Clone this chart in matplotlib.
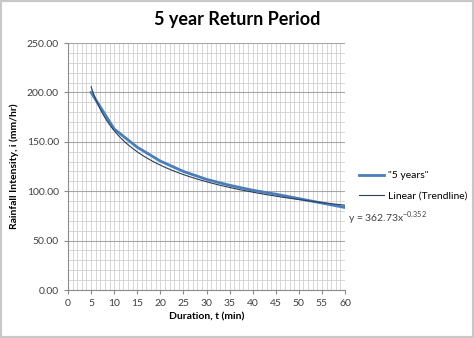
import numpy as np
import matplotlib
matplotlib.use('Agg')
import matplotlib.pyplot as plt
from matplotlib.ticker import MultipleLocator, FormatStrFormatter
from matplotlib.patches import Rectangle

# Data
durations = [5, 10, 15, 20, 25, 30, 35, 40, 45, 50, 55, 60]
intensity = [200.0, 163.0, 144.5, 130.5, 120.0, 112.0, 106.0, 101.0, 97.0, 92.5, 88.0, 83.5]

# power trendline coefficients shown on the chart
trend_a = 362.73
trend_b = -0.352

plt.rcParams['font.family'] = ['Lato', 'DejaVu Sans']

fig = plt.figure(figsize=(4.74, 3.38), dpi=100)
ax = fig.add_axes([68/474, 1 - 290/338, (345 - 68)/474, (290 - 43)/338])

# Trendline
tx = np.linspace(durations[0], durations[-1], 200)
ax.plot(tx, trend_a * tx ** trend_b, color='#2b3f5c', lw=0.8, label='Linear (Trendline)', zorder=4)
ax.plot(durations, intensity, color='#4a7ebb', lw=2.0, label='"5 years"', zorder=3)

ax.set_xlim(0, 60)
ax.set_ylim(0, 250)
ax.xaxis.set_major_locator(MultipleLocator(5))
ax.xaxis.set_minor_locator(MultipleLocator(1))
ax.yaxis.set_major_locator(MultipleLocator(50))
ax.yaxis.set_minor_locator(MultipleLocator(10))
ax.yaxis.set_major_formatter(FormatStrFormatter('%.2f'))

ax.grid(which='major', axis='y', color='#a6a6a6', lw=0.8)
ax.grid(which='minor', axis='y', color='#d0d0d0', lw=0.6)
ax.grid(which='both', axis='x', color='#d0d0d0', lw=0.6)
ax.set_axisbelow(True)

for s in ['top', 'right']:
    ax.spines[s].set_visible(False)
for s in ['left', 'bottom']:
    ax.spines[s].set_color('#8c8c8c')
    ax.spines[s].set_linewidth(0.8)

ax.tick_params(which='major', length=3, color='#8c8c8c', labelsize=7.5, labelcolor='#404040')
ax.tick_params(which='minor', length=0)

ax.set_xlabel('Duration, t (min)', fontsize=7.5, fontweight='bold', labelpad=3)
ax.set_ylabel('Rainfall Intensity, i (mm/hr)', fontsize=7.5, fontweight='bold', labelpad=6)

fig.text(237/474, 1 - 20/338, '5 year Return Period', ha='center', va='center',
         fontsize=13, fontweight='bold')

h, l = ax.get_legend_handles_labels()
fig.legend(h[::-1], l[::-1], loc='center left', bbox_to_anchor=(350/474, 1 - 186/338),
           frameon=False, fontsize=7.5, handlelength=2.4, labelspacing=1.1, handletextpad=0.3)

fig.text(348/474, 1 - 218/338, r'y = 362.73x$^{\mathregular{-0.352}}$', fontsize=7.5,
         va='center', color='#404040')

fig.patches.append(Rectangle((0, 0), 1, 1, transform=fig.transFigure, fill=False,
                             edgecolor='#c8c8c8', lw=3))

fig.savefig('out.png', dpi=100)
